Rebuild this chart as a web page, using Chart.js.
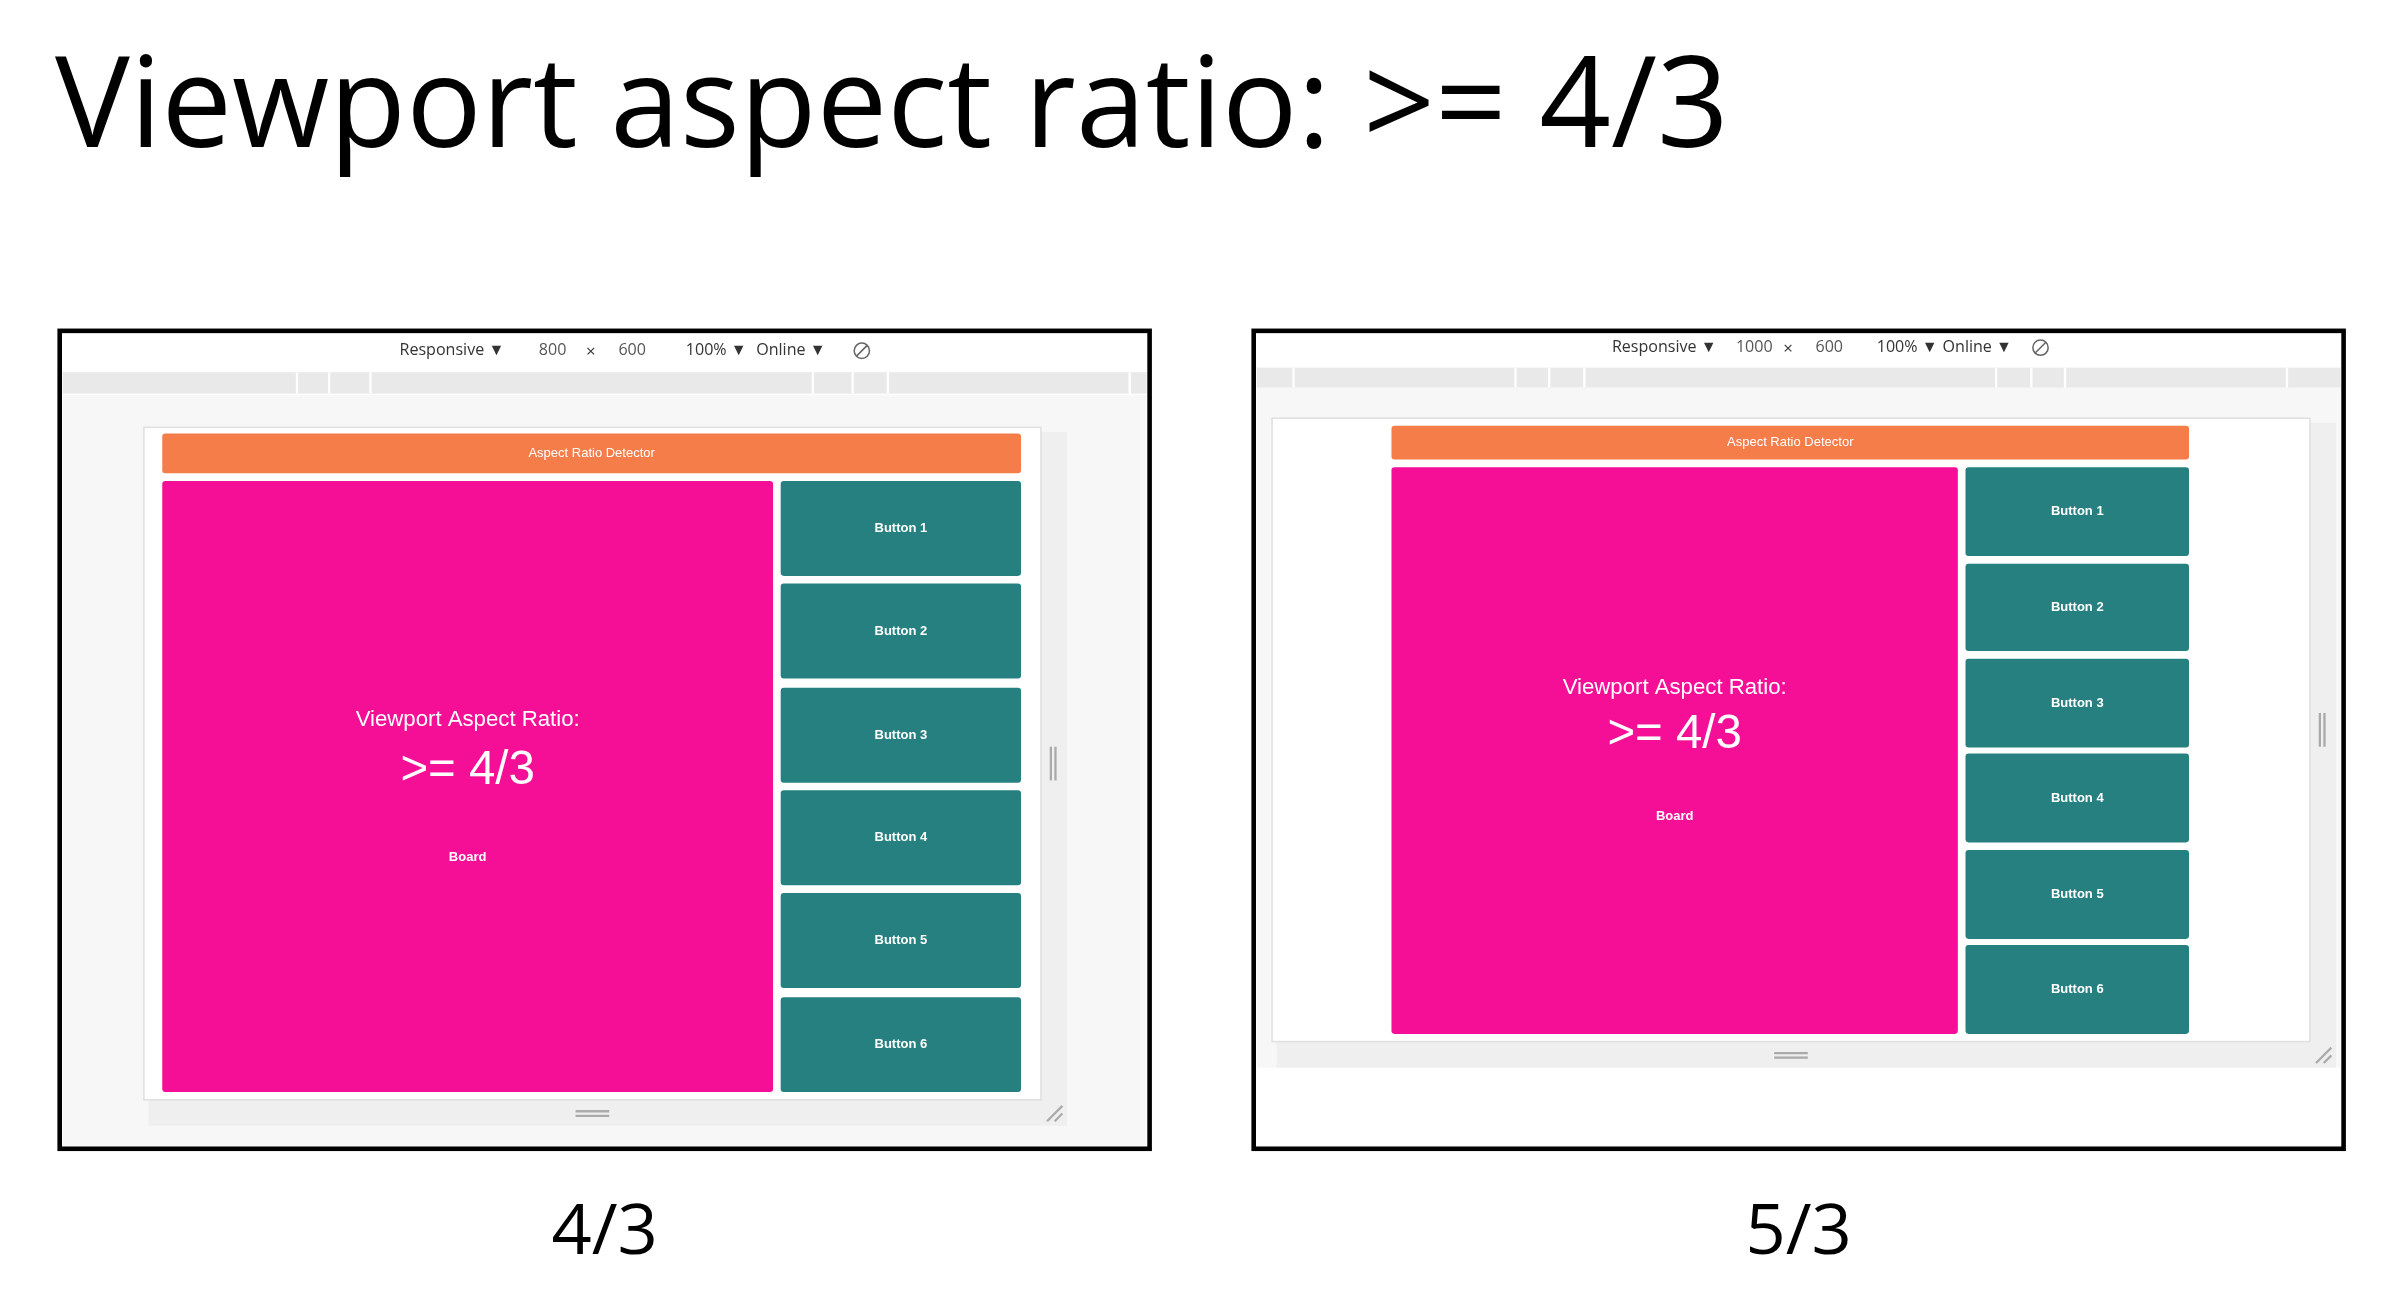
<!DOCTYPE html>
<html><head><meta charset="utf-8">
<script src="https://cdn.jsdelivr.net/npm/chart.js@4.4.0/dist/chart.umd.min.js"></script>
<style>html,body{margin:0;padding:0;background:#fff;}#wrap{width:2388px;height:1305px;}</style>
</head><body><div id="wrap"><canvas id="c"></canvas></div>
<script>
// Reference-image units (1560 x 852)
const title = "Viewport aspect ratio: >= 4/3";
const captions = ["4/3", "5/3"];
const captionX = [395, 1175];
const frameX0 = [39, 819], frameX1 = [751, 1531];
const widthsLabel = ["800", "1000"];
const toolbarY = [229, 227];
const toolbarX = [[261, 352, 386, 404, 448, 494, 563], [1053, 1134, 1168, 1186, 1226, 1269, 1333]];
const stripY = [[243, 257], [240, 253]];
const innerY = [[258, 748], [253, 697]];
const pageBox = [[94, 279, 680, 718], [831, 273, 1509, 680]];
const headerBox = [[106, 283, 667, 309], [909, 278, 1430, 300]];
const boardBox = [[106, 314, 505, 713], [909, 305, 1279, 675]];
const boardTextY = [[470, 503, 560], [449, 480, 533]];
const buttonX = [[510, 667], [1284, 1430]];
const buttonTop = [[314, 381, 449, 516, 583, 651], [305, 368, 430, 492, 555, 617]];
const buttonBottom = [[376, 443, 511, 578, 645, 713], [363, 425, 488, 550, 613, 675]];
const buttonLabels = ["Button 1", "Button 2", "Button 3", "Button 4", "Button 5", "Button 6"];

const draw = {
  id: 'mock',
  afterDraw(chart) {
    const ctx = chart.ctx, xs = chart.scales.x, ys = chart.scales.y;
    const X = v => xs.getPixelForValue(v), Y = v => ys.getPixelForValue(v);
    const k = (X(1560) - X(0)) / 1560;
    const rect = (x0, y0, x1, y1, fill, stroke, lw) => {
      if (fill) { ctx.fillStyle = fill; ctx.fillRect(X(x0), Y(y0), X(x1) - X(x0), Y(y1) - Y(y0)); }
      if (stroke) { ctx.strokeStyle = stroke; ctx.lineWidth = lw * k; ctx.strokeRect(X(x0), Y(y0), X(x1) - X(x0), Y(y1) - Y(y0)); }
    };
    const rrect = (x0, y0, x1, y1, fill) => {
      ctx.fillStyle = fill; ctx.beginPath();
      ctx.roundRect(X(x0), Y(y0), X(x1) - X(x0), Y(y1) - Y(y0), 2 * k); ctx.fill();
    };
    const text = (s, x, y, size, color, align, weight, family) => {
      ctx.fillStyle = color; ctx.textAlign = align || 'center'; ctx.textBaseline = 'middle';
      ctx.font = (weight || 'normal') + ' ' + (size * k) + 'px ' + (family || 'Arial, "Liberation Sans", sans-serif');
      ctx.fillText(s, X(x), Y(y));
    };
    ctx.save();
    // title
    ctx.textBaseline = 'alphabetic'; ctx.textAlign = 'left'; ctx.fillStyle = '#000';
    ctx.font = (82 * k) + 'px "Open Sans", Lato, sans-serif';
    ctx.fillText(title, X(36), Y(96));
    for (let p = 0; p < 2; p++) {
      const fx0 = frameX0[p], fx1 = frameX1[p];
      // inner grey area
      rect(fx0 + 2, innerY[p][0], fx1 - 2, innerY[p][1], '#f7f7f7');
      // strip
      rect(fx0 + 2, stripY[p][0], fx1 - 2, stripY[p][1], '#e9e9e9');
      const segs = p === 0 ? [194, 215, 242, 531, 557, 580, 738] : [845, 990, 1012, 1035, 1304, 1327, 1349, 1494];
      ctx.strokeStyle = '#fff'; ctx.lineWidth = 1.5 * k;
      segs.forEach(s => { ctx.beginPath(); ctx.moveTo(X(s), Y(stripY[p][0])); ctx.lineTo(X(s), Y(stripY[p][1])); ctx.stroke(); });
      // toolbar
      const tx = toolbarX[p], ty = toolbarY[p];
      const tf = '"Open Sans", sans-serif';
      text('Responsive ▼', tx[0], ty, 10.5, '#333', 'left', 'normal', tf);
      text(widthsLabel[p], tx[1], ty, 10.5, '#555', 'left', 'normal', tf);
      text('×', tx[2], ty + 1, 11, '#333', 'center', 'normal', tf);
      text('600', tx[3], ty, 10.5, '#555', 'left', 'normal', tf);
      text('100% ▼', tx[4], ty, 10.5, '#333', 'left', 'normal', tf);
      text('Online ▼', tx[5], ty, 10.5, '#333', 'left', 'normal', tf);
      ctx.strokeStyle = '#666'; ctx.lineWidth = 1 * k;
      ctx.beginPath(); ctx.arc(X(tx[6]), Y(ty), 5 * k, 0, Math.PI * 2); ctx.stroke();
      ctx.beginPath(); ctx.moveTo(X(tx[6] - 3.5), Y(ty + 3.5)); ctx.lineTo(X(tx[6] + 3.5), Y(ty - 3.5)); ctx.stroke();
      // page with shadow region
      const pb = pageBox[p];
      rect(pb[0] + 3, pb[1] + 3, pb[2] + 17, pb[3] + 17, '#efefef');
      rect(pb[0], pb[1], pb[2], pb[3], '#ffffff', '#e0e0e0', 1);
      // header
      const hb = headerBox[p];
      rrect(hb[0], hb[1], hb[2], hb[3], '#f47d4a');
      text('Aspect Ratio Detector', (hb[0] + hb[2]) / 2, (hb[1] + hb[3]) / 2, 8.5, '#fff');
      // board
      const bb = boardBox[p];
      rrect(bb[0], bb[1], bb[2], bb[3], '#f50f97');
      const cx = (bb[0] + bb[2]) / 2;
      text('Viewport Aspect Ratio:', cx, boardTextY[p][0], 14.5, '#fff');
      text('>= 4/3', cx, boardTextY[p][1], 31, '#fff');
      text('Board', cx, boardTextY[p][2], 8.5, '#fff', 'center', 'bold');
      // buttons
      for (let i = 0; i < buttonLabels.length; i++) {
        rrect(buttonX[p][0], buttonTop[p][i], buttonX[p][1], buttonBottom[p][i], '#268080');
        text(buttonLabels[i], (buttonX[p][0] + buttonX[p][1]) / 2, (buttonTop[p][i] + buttonBottom[p][i]) / 2, 8.5, '#fff', 'center', 'bold');
      }
      // handles
      const hx = pb[2] + 8, hy = (pb[1] + pb[3]) / 2;
      ctx.strokeStyle = '#aaa'; ctx.lineWidth = 1.5 * k;
      [-1.5, 1.5].forEach(d => { ctx.beginPath(); ctx.moveTo(X(hx + d), Y(hy - 11)); ctx.lineTo(X(hx + d), Y(hy + 11)); ctx.stroke(); });
      const bx = (pb[0] + pb[2]) / 2, by = pb[3] + 9;
      [-1.5, 1.5].forEach(d => { ctx.beginPath(); ctx.moveTo(X(bx - 11), Y(by + d)); ctx.lineTo(X(bx + 11), Y(by + d)); ctx.stroke(); });
      const rx = pb[2] + 9, ry = pb[3] + 9;
      ctx.beginPath(); ctx.moveTo(X(rx - 5), Y(ry + 5)); ctx.lineTo(X(rx + 5), Y(ry - 5));
      ctx.moveTo(X(rx), Y(ry + 5)); ctx.lineTo(X(rx + 5), Y(ry)); ctx.stroke();
      // frame
      rect(fx0, 216, fx1, 750, null, '#000', 3);
      // caption
      ctx.textBaseline = 'alphabetic'; ctx.textAlign = 'center'; ctx.fillStyle = '#000';
      ctx.font = (46 * k) + 'px "Open Sans", Lato, sans-serif';
      ctx.fillText(captions[p], X(captionX[p]), Y(819));
    }
    ctx.restore();
  }
};

new Chart(document.getElementById('c'), {
  type: 'scatter',
  data: { datasets: [{ data: [] }] },
  options: {
    responsive: true, maintainAspectRatio: false, animation: false,
    layout: { padding: 0 },
    plugins: { legend: { display: false }, tooltip: { enabled: false } },
    scales: {
      x: { type: 'linear', min: 0, max: 1560, display: false },
      y: { type: 'linear', min: 0, max: 852, reverse: true, display: false }
    }
  },
  plugins: [draw]
});
</script></body></html>
